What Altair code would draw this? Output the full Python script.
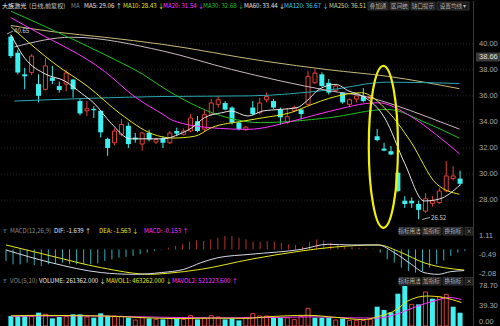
import altair as alt
import pandas as pd

# ---------------- data ----------------
opens = [40.55, 39.30, 37.65, 37.80, 36.90, 36.50, 37.40, 36.75, 36.90, 37.25,
         35.60, 34.85, 35.00, 34.85, 32.70, 32.40, 33.05, 33.70, 32.80, 32.30,
         33.15, 32.45, 32.75, 32.40, 33.30, 33.05, 33.30, 34.05, 33.45, 34.60,
         35.35, 35.45, 35.10, 33.95, 33.40, 35.10, 34.70, 35.70, 35.60, 34.95,
         33.95, 34.85, 34.95, 35.35, 37.00, 37.65, 37.00, 36.40, 36.25, 35.35,
         35.75, 36.00, 35.80, 32.90, 31.95, 31.75, 30.10, 27.95, 27.95, 27.70,
         27.15, 27.75, 27.80, 28.70, 29.65, 29.65]
highs = [40.65, 39.55, 38.15, 39.20, 37.65, 38.90, 38.30, 37.10, 38.00, 37.30,
         35.75, 35.60, 35.20, 34.90, 32.80, 33.50, 34.20, 33.95, 33.15, 33.20,
         33.40, 32.80, 32.90, 33.30, 33.55, 33.50, 34.60, 34.45, 34.95, 35.75,
         36.00, 35.60, 35.20, 34.00, 33.70, 35.60, 35.85, 36.25, 35.75, 35.10,
         35.05, 35.25, 35.00, 37.90, 38.05, 37.80, 37.30, 36.90, 36.30, 35.80,
         36.00, 36.60, 36.00, 33.45, 32.40, 32.15, 30.20, 28.30, 28.20, 27.95,
         28.55, 28.30, 28.95, 31.00, 30.60, 30.25]
lows = [38.90, 37.65, 36.50, 37.60, 35.50, 36.40, 36.90, 36.25, 36.35, 35.85,
        34.50, 34.45, 34.30, 32.80, 31.40, 32.20, 32.90, 32.00, 32.40, 31.80,
        32.50, 32.30, 32.00, 32.30, 32.90, 32.95, 33.20, 33.20, 33.30, 34.50,
        35.10, 34.90, 33.80, 33.35, 33.30, 34.50, 34.60, 35.50, 35.00, 33.80,
        33.85, 34.75, 34.20, 35.30, 36.90, 36.70, 36.10, 36.30, 35.40, 35.20,
        35.50, 35.50, 35.70, 32.50, 31.75, 31.45, 28.60, 27.40, 27.40, 26.52,
        27.00, 27.50, 27.70, 28.60, 29.50, 29.10]
closes = [39.05, 37.80, 37.50, 39.05, 36.00, 38.30, 37.15, 36.45, 37.75, 36.50,
          34.65, 35.00, 34.90, 33.20, 32.00, 33.30, 33.80, 32.30, 32.65, 33.15,
          32.65, 32.65, 32.40, 33.15, 33.10, 33.30, 34.30, 33.30, 34.55, 35.45,
          35.70, 34.95, 33.95, 33.45, 33.60, 34.60, 35.45, 35.95, 35.10, 34.35,
          34.40, 35.10, 34.60, 37.50, 37.75, 36.75, 36.25, 36.75, 35.50, 35.70,
          36.00, 35.60, 35.95, 32.60, 31.80, 31.50, 28.70, 27.70, 27.75, 27.25,
          28.10, 27.95, 28.70, 29.85, 29.85, 29.25]
volumes = [19.7, 19.7, 20.3, 19.0, 26.2, 23.0, 15.0, 17.7, 19.0, 23.0,
           23.0, 17.7, 16.4, 24.9, 20.3, 19.7, 19.0, 16.4, 11.8, 16.4,
           15.0, 13.0, 13.0, 15.0, 15.0, 13.0, 20.3, 13.0, 16.4, 20.3,
           17.7, 13.0, 14.4, 11.1, 16.4, 24.3, 19.7, 19.7, 16.4, 16.4,
           16.4, 13.0, 19.0, 34.8, 16.4, 16.4, 16.4, 11.8, 14.4, 11.1,
           11.1, 11.1, 13.0, 38.0, 31.5, 26.9, 63.6, 78.7, 42.6, 42.6,
           66.9, 53.8, 57.7, 62.3, 38.0, 26.1]
vol_dir = "cccrcrccrccrcccrrcrrcrcrcrrcrrrcccrrrrccrrrrcccrcrrrrcccccrcrcrrcc"
macd_hist = [-1.00, -1.29, -1.29, -1.15, -1.35, -1.43, -1.29, -1.22, -1.15, -1.29,
             -1.29, -1.29, -1.29, -1.22, -1.00, -0.86, -0.71, -0.64, -0.57, -0.42,
             -0.28, -0.14, -0.03, 0.15, 0.29, 0.43, 0.66, 0.78, 0.72, 0.86,
             1.00, 1.15, 1.15, 1.00, 0.86, 0.66, 0.66, 0.72, 0.66, 0.57,
             0.43, 0.37, 0.20, 0.66, 0.86, 0.78, 0.57, 0.43, 0.29, 0.20,
             0.15, 0.09, 0.05, -0.28, -0.86, -1.14, -1.57, -1.86, -2.00, -1.86,
             -1.57, -1.29, -0.95, -0.57, -0.28, -0.15]

ma5_i = [1, 3, 6, 8.8, 11.2, 13, 15.5, 18.3, 23, 25.4, 27.2, 29, 31.5, 32.9, 35.3,
         37.5, 40, 42.4, 43.8, 45.6, 48, 49.9, 52, 55.1, 58, 60.8, 63, 66]
ma5_v = [40.7, 38.9, 37.67, 37.14, 36.2, 35.45, 33.9, 32.7, 32.7, 33.07, 33.55, 34.32,
         34.7, 34.83, 34.45, 34.84, 34.96, 35.09, 35.6, 36.5, 36.88, 36.37, 35.95,
         34.3, 30.8, 27.93, 28.08, 29.16]
ma10_i = [1, 1.7, 7.4, 12.05, 16.9, 21.5, 24.4, 27.6, 30, 34.7, 37.5, 41.4, 44.6, 47,
          51.7, 55.5, 58.8, 62.6, 65.9]
ma10_v = [41.3, 40.97, 38.44, 36.75, 34.6, 33.07, 32.76, 32.9, 33.55, 34.07, 34.32,
          34.7, 35.35, 35.8, 36.24, 34.84, 32.53, 29.24, 28.45]
ma20_i = [1, 4.5, 14.5, 19.1, 23, 24.4, 30, 35.3, 41.8, 47, 54.1, 58.8, 62.6, 65.9]
ma20_v = [42.0, 40.97, 37.9, 35.86, 34.58, 34.12, 33.55, 33.43, 34.07, 34.8, 35.47,
          34.45, 33.0, 31.56]
ma30_i = [1, 7.4, 14.5, 20.1, 23.7, 32.4, 37.1, 47, 55.5, 61.2, 65.9]
ma30_v = [42.5, 40.97, 39.19, 37.65, 36.4, 34.32, 33.94, 34.32, 34.96, 33.9, 32.75]
ma60_i = [1.5, 9.8, 23, 32.9, 47, 52.7, 56.5, 61.2, 65.9]
ma60_v = [39.75, 40.5, 39.44, 38.03, 36.4, 35.9, 35.3, 34.4, 33.45]
ma120_i = [1.5, 23, 35.7, 47, 55.5, 65.9]
ma120_v = [35.6, 35.95, 36.0, 36.45, 37.05, 36.95]
ma250_i = [1, 7.4, 14.5, 23, 37.6, 47, 55.5, 65.9]
ma250_v = [41.4, 40.9, 40.5, 39.95, 38.67, 38.0, 37.5, 36.55]

dif_i = [1, 7.4, 14.5, 19.1, 23, 26.2, 28.6, 31, 35.7, 42.8, 46.6, 49.9, 53.7, 56,
         58.4, 60.2, 62.2, 64, 65.9]
dif_v = [-0.05, -1.15, -2.0, -2.15, -2.0, -1.72, -1.15, -0.72, -0.42, 0.0, 0.44,
         0.38, 0.38, -0.28, -1.28, -2.0, -2.15, -1.92, -1.83]
dea_i = [1, 7.4, 14.5, 21.5, 23.9, 28.6, 35.7, 42.8, 47.5, 53.7, 57, 60.2, 63.1, 65.9]
dea_v = [0.38, -0.57, -1.58, -2.15, -2.06, -1.72, -0.85, -0.14, 0.2, 0.38, -0.28,
         -1.15, -1.58, -1.78]
mavol1_i = [1, 5, 10, 15, 20, 25, 30, 35, 38, 44, 48, 52, 54, 56.9, 58.4, 61.2, 63.6, 66.2]
mavol1_v = [20, 21, 20.5, 19.5, 16.5, 14.5, 15.5, 15, 18, 21, 17, 12.5, 18, 33, 49, 59,
            56, 46.3]
mavol2_i = [1, 10, 20, 30, 40, 45, 50, 54, 56.9, 59.8, 62.2, 64.5, 66.2]
mavol2_v = [19, 20, 18, 16, 17, 18, 16, 15.5, 23.6, 39, 49, 56, 52.1]

price_ticks = [28, 30, 32, 34, 36, 38, 40]
macd_ticks = [1.11, -0.49, -2.08]
vol_ticks = [39.3, 78.7]
vol_base_tick = [0]

# ---------------- styling ----------------
BG = "#000000"
CYAN = "#3ef0f0"
RED = "#e0403a"
HCYAN = "#2bb5b5"
HRED = "#b83232"
WHITE = "#e6e6e6"
YEL = "#e6e619"
MAG = "#ff33ff"
GRN = "#22c022"
TEAL = "#2aa8b0"
KHAKI = "#c8b878"
GREY60 = "#c8b8c0"
FONT = "Noto Sans CJK SC"
W = 472
LABX = 478

XSC = alt.Scale(domain=[0.292, 67.147], nice=False, zero=False)
PSC = alt.Scale(domain=[26.01, 43.28], nice=False, zero=False)
MSC = alt.Scale(domain=[-2.295, 2.015], nice=False, zero=False)
VSC = alt.Scale(domain=[-1.97, 98.4], nice=False, zero=False)

X = alt.X("i:Q", scale=XSC, axis=None)


def series(pairs):
    rows = []
    for name, col, ii, vv in pairs:
        for a, b in zip(ii, vv):
            rows.append({"i": a, "v": b, "name": name, "col": col})
    return pd.DataFrame(rows)


def axis_layers(values, scale, height, baseline="middle", grid=True):
    df = pd.DataFrame({"v": values})
    df["lab"] = [f"{v:.2f}" for v in values]
    layers = []
    if grid:
        layers.append(alt.Chart(df).mark_rule(color="#262626", strokeDash=[1, 2],
                                              strokeWidth=1).encode(
            y=alt.Y("v:Q", scale=scale, axis=None), x=alt.value(0), x2=alt.value(W)))
    layers.append(alt.Chart(df).mark_text(align="left", baseline=baseline, fontSize=7.5,
                                          font="Liberation Sans", color="#a8a8a8").encode(
        y=alt.Y("v:Q", scale=scale, axis=None), x=alt.value(LABX), text="lab:N"))
    return layers


def frame(height):
    return alt.Chart(pd.DataFrame({"k": [0]})).mark_rule(color="#3a3a3a", strokeWidth=1).encode(
        x=alt.value(W + 0.5), y=alt.value(0), y2=alt.value(height))


def texts(items, size=6.1):
    df = pd.DataFrame(items, columns=["t", "px", "py", "c"])
    return alt.Chart(df).mark_text(align="left", baseline="middle", fontSize=size,
                                   font=FONT).encode(
        x=alt.X("px:Q", scale=None, axis=None),
        y=alt.Y("py:Q", scale=None, axis=None),
        text="t:N",
        color=alt.Color("c:N", scale=None, legend=None))


def buttons(items, y1, y2):
    df = pd.DataFrame(items, columns=["t", "x1", "x2"])
    df["y1"] = y1
    df["y2"] = y2
    rect = alt.Chart(df).mark_rect(fill="#1a1a1a", stroke="#3c3c3c", strokeWidth=0.8).encode(
        x=alt.X("x1:Q", scale=None, axis=None), x2="x2:Q",
        y=alt.Y("y1:Q", scale=None, axis=None), y2="y2:Q")
    txt = alt.Chart(df).transform_calculate(
        xc="(datum.x1 + datum.x2) / 2", yc="(datum.y1 + datum.y2) / 2"
    ).mark_text(fontSize=5.6, font=FONT, color="#b8b8b8", baseline="middle",
                align="center").encode(
        x=alt.X("xc:Q", scale=None, axis=None),
        y=alt.Y("yc:Q", scale=None, axis=None), text="t:N")
    return rect + txt


# ---------------- price panel ----------------
idx = list(range(1, 67))
candles = pd.DataFrame({"i": idx, "o": opens, "h": highs, "l": lows, "c": closes})
candles["dir"] = ["up" if c >= o else "down" for o, c in zip(opens, closes)]
candles["col"] = [RED if d == "up" else CYAN for d in candles["dir"]]

wick = alt.Chart(candles).mark_rule(strokeWidth=1).encode(
    x=X, y=alt.Y("l:Q", scale=PSC, axis=None), y2="h:Q",
    color=alt.Color("col:N", scale=None, legend=None))
body_dn = alt.Chart(candles).transform_filter("datum.dir == 'down'").mark_bar(
    size=5, color=CYAN).encode(x=X, y=alt.Y("o:Q", scale=PSC, axis=None), y2="c:Q")
body_up = alt.Chart(candles).transform_filter("datum.dir == 'up'").mark_bar(
    size=4, fill=BG, stroke=RED, strokeWidth=1).encode(
    x=X, y=alt.Y("o:Q", scale=PSC, axis=None), y2="c:Q")

ma_df = series([("MA250", KHAKI, ma250_i, ma250_v), ("MA120", TEAL, ma120_i, ma120_v),
                ("MA60", GREY60, ma60_i, ma60_v), ("MA30", GRN, ma30_i, ma30_v),
                ("MA20", MAG, ma20_i, ma20_v), ("MA10", YEL, ma10_i, ma10_v),
                ("MA5", WHITE, ma5_i, ma5_v)])
ma_lines = alt.Chart(ma_df).mark_line(strokeWidth=1, interpolate="monotone", clip=True).encode(
    x=X, y=alt.Y("v:Q", scale=PSC, axis=None),
    color=alt.Color("col:N", scale=None, legend=None), detail="name:N")

ellipse = alt.Chart(pd.DataFrame({"i": [54.9], "p": [32.09]})).mark_point(
    shape="M0,-1A0.18,1 0 1,1 0,1A0.18,1 0 1,1 0,-1Z", size=26244, filled=False,
    color="#f0f000", strokeWidth=2.2, opacity=1).encode(
    x=X, y=alt.Y("p:Q", scale=PSC, axis=None))

top_text = texts([
    ("大族激光", 1, 5, "#f0f0f0"),
    ("(日线,前复权)", 28, 5, "#c8c8c8"),
    ("MA", 70, 5, "#8a8a8a"),
    ("MA5: 29.06 ↑", 83, 5, WHITE),
    ("MA10: 28.43 ↓", 122, 5, YEL),
    ("MA20: 31.54 ↓", 162, 5, MAG),
    ("MA30: 32.68 ↓", 202, 5, GRN),
    ("MA60: 33.44 ↓", 243, 5, WHITE),
    ("MA120: 36.67 ↓", 283, 5, "#33ccff"),
    ("MA250: 36.51", 328, 5, "#d8d890"),
    ("40.65", 13, 30, "#d0d0d0"),
    ("26.52", 430, 216.5, "#d0d0d0"),
])
hl_text = alt.Chart(pd.DataFrame({"t": ["38.66"], "px": [478], "py": [56]})).mark_text(
    align="left", baseline="middle", fontSize=7.5, font="Liberation Sans",
    color="#e0e0e0").encode(x=alt.X("px:Q", scale=None, axis=None),
                            y=alt.Y("py:Q", scale=None, axis=None), text="t:N")
top_btn = buttons([("叠加通", 367, 387), ("区间统", 389, 408), ("缺口提示", 410, 434),
                   ("设置均线 ▾", 436, 468)], 1, 9)
hl_box = alt.Chart(pd.DataFrame({"x1": [475], "x2": [499], "y1": [51.5], "y2": [60.5]})).mark_rect(
    fill="#3a3a3a").encode(x=alt.X("x1:Q", scale=None, axis=None), x2="x2:Q",
                           y=alt.Y("y1:Q", scale=None, axis=None), y2="y2:Q")
ann = pd.DataFrame({"x1": [6, 421], "x2": [12, 429], "y1": [33, 218.5], "y2": [30, 216.5]})
ann_rules = alt.Chart(ann).mark_rule(color="#d0d0d0", strokeWidth=0.8).encode(
    x=alt.X("x1:Q", scale=None, axis=None), x2="x2:Q",
    y=alt.Y("y1:Q", scale=None, axis=None), y2="y2:Q")

price = alt.layer(*axis_layers(price_ticks, PSC, 225), frame(225), wick, body_dn, body_up,
                  ma_lines, ellipse, hl_box, hl_text, top_text, top_btn,
                  ann_rules).properties(width=W, height=225)

# ---------------- MACD panel ----------------
mdf = pd.DataFrame({"i": idx, "h": macd_hist, "z": 0.0})
mdf["col"] = [HRED if v > 0 else HCYAN for v in macd_hist]
hist = alt.Chart(mdf).mark_rule(strokeWidth=1).encode(
    x=X, y=alt.Y("h:Q", scale=MSC, axis=None), y2="z:Q",
    color=alt.Color("col:N", scale=None, legend=None))
macd_df = series([("DEA", YEL, dea_i, dea_v), ("DIF", "#d8d8e8", dif_i, dif_v)])
macd_lines = alt.Chart(macd_df).mark_line(strokeWidth=1, interpolate="monotone").encode(
    x=X, y=alt.Y("v:Q", scale=MSC, axis=None),
    color=alt.Color("col:N", scale=None, legend=None), detail="name:N")
macd_text = texts([
    ("Ŧ", 2, 5, "#8a8a8a"),
    ("MACD(12,26,9)", 9, 5, "#8a8a8a"),
    ("DIF: -1.639 ↑", 53, 5, WHITE),
    ("DEA: -1.563 ↓", 98, 5, YEL),
    ("MACD: -0.153 ↑", 143, 5, MAG),
])
macd_btn = buttons([("指标用法", 398, 419), ("加指标", 421, 440), ("换指标", 442, 462),
                    ("×", 464, 472)], 1.5, 9)
macd = alt.layer(*axis_layers(macd_ticks, MSC, 50, grid=False), frame(50), hist, macd_lines,
                 macd_text, macd_btn).properties(width=W, height=50)

# ---------------- VOL panel ----------------
vdf = pd.DataFrame({"i": idx, "v": volumes, "z": 0.0, "d": list(vol_dir)})
vol_dn = alt.Chart(vdf).transform_filter("datum.d == 'c'").mark_bar(size=5, color=CYAN).encode(
    x=X, y=alt.Y("v:Q", scale=VSC, axis=None), y2="z:Q")
vol_up = alt.Chart(vdf).transform_filter("datum.d == 'r'").mark_bar(
    size=4, fill=BG, stroke=RED, strokeWidth=1).encode(
    x=X, y=alt.Y("v:Q", scale=VSC, axis=None), y2="z:Q")
mv_df = series([("MAVOL2", MAG, mavol2_i, mavol2_v), ("MAVOL1", YEL, mavol1_i, mavol1_v)])
mv_lines = alt.Chart(mv_df).mark_line(strokeWidth=1, interpolate="monotone").encode(
    x=X, y=alt.Y("v:Q", scale=VSC, axis=None),
    color=alt.Color("col:N", scale=None, legend=None), detail="name:N")
vol_text = texts([
    ("Ŧ", 2, 5, "#8a8a8a"),
    ("VOL(5,10)", 9, 5, "#8a8a8a"),
    ("VOLUME: 261362.000 ↓", 38, 5, WHITE),
    ("MAVOL1: 463262.000 ↓", 105, 5, YEL),
    ("MAVOL2: 521223.600 ↑", 171, 5, MAG),
])
vol_btn = buttons([("指标用法", 398, 419), ("加指标", 421, 440), ("换指标", 442, 462),
                   ("×", 464, 472)], 1.5, 9)
vol = alt.layer(*axis_layers(vol_ticks, VSC, 51, grid=False),
                *axis_layers(vol_base_tick, VSC, 51, baseline="bottom", grid=False),
                frame(51), vol_dn, vol_up, mv_lines, vol_text,
                vol_btn).properties(width=W, height=51)

chart = alt.vconcat(price, macd, vol, spacing=0, bounds="flush").properties(
    background=BG, padding=0).configure_view(strokeWidth=0)

chart.save("out.html", embed_options={"renderer": "svg", "actions": False})
